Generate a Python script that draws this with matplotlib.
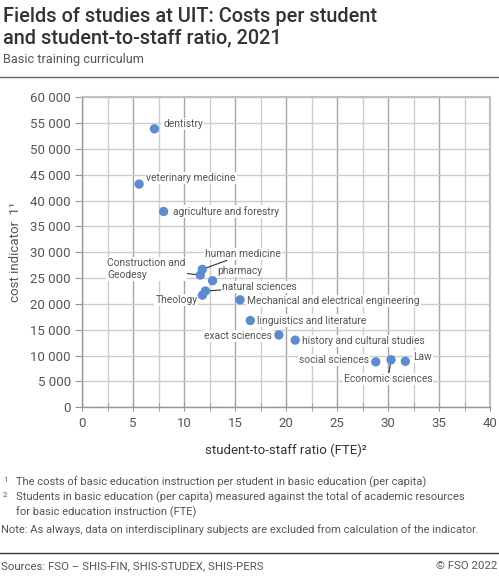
import matplotlib
matplotlib.use("Agg")
import matplotlib.pyplot as plt
from matplotlib.ticker import FuncFormatter, MultipleLocator

plt.rcParams['font.family'] = ['Roboto', 'DejaVu Sans']

# Daten: Studienrichtungen, Betreuungsverhältnis, Kostenindikator
faecher = ['dentistry', 'veterinary medicine', 'agriculture and forestry',
           'human medicine', 'Construction and\nGeodesy', 'pharmacy',
           'natural sciences', 'Theology',
           'Mechanical and electrical engineering',
           'linguistics and literature', 'exact sciences',
           'history and cultural studies', 'social sciences',
           'Economic sciences', 'Law']
ratio = [7.1, 5.6, 8.0, 11.8, 11.6, 12.8, 12.1, 11.8, 15.5, 16.5, 19.3,
         20.9, 28.8, 30.3, 31.7]
kosten = [53900, 43200, 37900, 26700, 25600, 24500, 22500, 21700, 20800,
          16800, 14000, 13000, 8800, 9200, 8900]

# Label-Versatz in Pixel (dx, dy, ha, Leitlinie)
versatz = [(9, 5, 'left', False), (7, 6, 'left', False), (9, 0, 'left', False),
           (3, 15, 'left', True), (-93, 6, 'left', True), (5, 10, 'left', False),
           (17, 4, 'left', True), (-5, -5, 'right', False), (7, -1, 'left', False),
           (7, 0, 'left', False), (-7, -1, 'right', False), (7, -1, 'left', False),
           (-7, 2, 'right', False), (-3, -19, 'center', True), (8, 4, 'left', False)]

blau = '#5b8bd1'
text_farbe = '#333333'
grau = '#555555'

fig = plt.figure(figsize=(4.99, 5.76), dpi=100)
ax = fig.add_axes([82/499, 1-407.3/576, 408/499, 310/576])

ax.set_xlim(0, 40)
ax.set_ylim(0, 60000)
ax.xaxis.set_major_locator(MultipleLocator(5))
ax.xaxis.set_minor_locator(MultipleLocator(2.5))
ax.yaxis.set_major_locator(MultipleLocator(5000))
ax.yaxis.set_major_formatter(FuncFormatter(lambda v, p: f"{int(v):,}".replace(',', ' ')))

ax.grid(True, which='major', axis='x', color='#a6a6a6', lw=1)
ax.grid(True, which='minor', axis='x', color='#cccccc', lw=1)
ax.grid(True, which='major', axis='y', color='#cccccc', lw=1)
ax.set_axisbelow(True)

for s in ['top', 'right']:
    ax.spines[s].set_color('#c9bdb9')
    ax.spines[s].set_linewidth(1.5)
for s in ['left', 'bottom']:
    ax.spines[s].set_color('#9e9494')
    ax.spines[s].set_linewidth(1)

ax.tick_params(axis='y', which='major', length=5, color='#9e9494', labelsize=9.5,
               labelcolor=grau, pad=3)
ax.tick_params(axis='x', which='both', direction='inout', length=6, color='#9e9494')
ax.tick_params(axis='x', which='major', labelsize=9.5, labelcolor=grau, pad=4)

ax.scatter(ratio, kosten, s=45, color=blau, zorder=4, edgecolors='none')

for name, x, y, (dx, dy, ha, linie) in zip(faecher, ratio, kosten, versatz):
    pfeil = dict(arrowstyle='-', color='#333333', lw=0.8, shrinkA=0, shrinkB=3) if linie else None
    ax.annotate(name, (x, y), xytext=(dx, dy), textcoords='offset pixels',
                ha=ha, va='center', fontsize=7.4, color=grau, zorder=3,
                multialignment='left',
                bbox=dict(boxstyle='square,pad=0.1', fc='white', ec='none'),
                arrowprops=pfeil)

ax.set_xlabel('student-to-staff ratio (FTE)\u00b2', fontsize=9.5, color=text_farbe, labelpad=10)
ax.set_ylabel('cost indicator  1\u00b9', fontsize=9.5, color=grau, labelpad=6)

# Titel und Untertitel
fig.text(3/499, 1-16/576, 'Fields of studies at UIT: Costs per student', fontsize=14.3,
         weight='medium', color=text_farbe, va='center')
fig.text(3/499, 1-38/576, 'and student-to-staff ratio, 2021', fontsize=14.3,
         weight='medium', color=text_farbe, va='center')
fig.text(3/499, 1-60/576, 'Basic training curriculum', fontsize=9.2, color=grau, va='center')
fig.add_artist(plt.Line2D([0, 1], [1-77/576, 1-77/576], color='#666666', lw=1))

# Fußnoten
fuss = 8.0
fig.text(3/499, 1-480/576, '1', fontsize=5.5, color=grau, va='center')
fig.text(16/499, 1-482/576, 'The costs of basic education instruction per student in basic education (per capita)',
         fontsize=fuss, color=grau, va='center')
fig.text(3/499, 1-495/576, '2', fontsize=5.5, color=grau, va='center')
fig.text(16/499, 1-497/576, 'Students in basic education (per capita) measured against the total of academic resources',
         fontsize=fuss, color=grau, va='center')
fig.text(16/499, 1-512/576, 'for basic education instruction (FTE)', fontsize=fuss, color=grau, va='center')
fig.text(1/499, 1-530/576, 'Note: As always, data on interdisciplinary subjects are excluded from calculation of the indicator.',
         fontsize=fuss, color=grau, va='center')

fig.add_artist(plt.Line2D([0, 1], [1-553/576, 1-553/576], color='#333333', lw=1))
fig.text(1/499, 1-566/576, 'Sources: FSO \u2013 SHIS-FIN, SHIS-STUDEX, SHIS-PERS', fontsize=8.2,
         color=grau, va='center')
fig.text(497/499, 1-566/576, '\u00a9 FSO 2022', fontsize=8.2, color=grau, va='center', ha='right')

fig.savefig('out.png', dpi=100)
